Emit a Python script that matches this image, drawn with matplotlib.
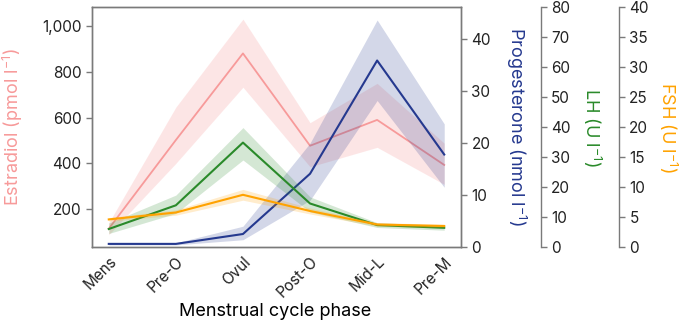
import matplotlib
matplotlib.use("Agg")
import matplotlib.pyplot as plt
from matplotlib.ticker import FuncFormatter

plt.rcParams['font.family'] = ['Inter', 'DejaVu Sans']
plt.rcParams['font.size'] = 11
plt.rcParams['mathtext.fontset'] = 'custom'
plt.rcParams['mathtext.rm'] = 'Inter'

phases = ['Mens', 'Pre-O', 'Ovul', 'Post-O', 'Mid-L', 'Pre-M']

estradiol = [114, 502, 881, 477, 590, 393]
estradiol_lo = [88, 400, 733, 385, 470, 308]
estradiol_hi = [140, 646, 1031, 578, 750, 488]

progesterone = [0.6, 0.6, 2.5, 14.1, 35.9, 17.8]
progesterone_lo = [0.4, 0.4, 1.4, 9.0, 28.2, 11.5]
progesterone_hi = [0.8, 0.8, 4.0, 20.0, 43.7, 23.7]

lh = [6.0, 13.9, 34.8, 14.5, 7.3, 6.4]
lh_lo = [4.5, 11.2, 29.0, 11.7, 6.5, 5.6]
lh_hi = [8.0, 17.3, 39.8, 16.7, 8.1, 7.2]

fsh = [4.6, 5.75, 8.7, 6.0, 3.75, 3.5]
fsh_lo = [4.3, 5.3, 7.8, 5.5, 3.45, 3.2]
fsh_hi = [4.9, 6.2, 9.6, 6.5, 4.05, 3.8]

c_e2 = '#f79a9a'
c_p4 = '#25398f'
c_lh = '#2a8a2a'
c_fsh = '#ffa200'
grey = '#7a7a7a'

fig = plt.figure(figsize=(6.85, 3.23), dpi=100)
ax = fig.add_axes([92/685, 1-247/323, (461-92)/685, 240/323])
x = range(len(phases))

ax2 = ax.twinx()
ax3 = ax.twinx()
ax4 = ax.twinx()
ax3.spines['right'].set_position(('axes', 1.216))
ax4.spines['right'].set_position(('axes', 1.428))

ax.fill_between(x, estradiol_lo, estradiol_hi, color=c_e2, alpha=0.25, lw=0)
ax.plot(x, estradiol, color=c_e2, lw=1.3)
ax2.fill_between(x, progesterone_lo, progesterone_hi, color=c_p4, alpha=0.2, lw=0)
ax2.plot(x, progesterone, color=c_p4, lw=1.5)
ax3.fill_between(x, lh_lo, lh_hi, color=c_lh, alpha=0.2, lw=0)
ax3.plot(x, lh, color=c_lh, lw=1.5)
ax4.fill_between(x, fsh_lo, fsh_hi, color=c_fsh, alpha=0.2, lw=0)
ax4.plot(x, fsh, color=c_fsh, lw=1.5)

ax.set_xlim(-0.25, 5.25)
ax.set_ylim(34, 1084)
ax2.set_ylim(0, 46.2)
ax3.set_ylim(0, 80)
ax4.set_ylim(0, 40)

ax.set_yticks([200, 400, 600, 800, 1000])
ax.yaxis.set_major_formatter(FuncFormatter(lambda v, p: f'{int(v):,}'))
ax2.set_yticks([0, 10, 20, 30, 40])
ax3.set_yticks(range(0, 81, 10))
ax4.set_yticks(range(0, 41, 5))

ax.set_xticks(list(x))
ax.set_xticklabels(phases, rotation=45, ha='right', rotation_mode='anchor')
ax.set_xlabel('Menstrual cycle phase', fontsize=13, va='center')
ax.xaxis.set_label_coords(0.497, -0.27)

lab = dict(fontsize=13, va='center', ha='center', rotation_mode='anchor')
ax.set_ylabel('Estradiol (pmol l$^{-1}$)', color=c_e2, rotation=90, **lab)
ax.yaxis.set_label_coords(-0.214, 0.5)
ax2.set_ylabel('Progesterone (nmol l$^{-1}$)', color=c_p4, rotation=270, **lab)
ax2.yaxis.set_label_coords(1.149, 0.5)
ax3.set_ylabel('LH (U l$^{-1}$)', color=c_lh, rotation=270, **lab)
ax3.yaxis.set_label_coords(1.355, 0.5)
ax4.set_ylabel('FSH (U l$^{-1}$)', color=c_fsh, rotation=270, **lab)
ax4.yaxis.set_label_coords(1.561, 0.5)

for a in (ax, ax2, ax3, ax4):
    for s in a.spines.values():
        s.set_color(grey)
        s.set_linewidth(1)
    a.tick_params(colors=grey, labelcolor='#222222', length=4, width=1, labelsize=11)
for a in (ax3, ax4):
    a.spines['top'].set_visible(False)
    a.spines['left'].set_visible(False)
    a.spines['bottom'].set_visible(False)
ax.tick_params(axis='x', length=0, pad=5)

fig.savefig('out.png', dpi=100)
